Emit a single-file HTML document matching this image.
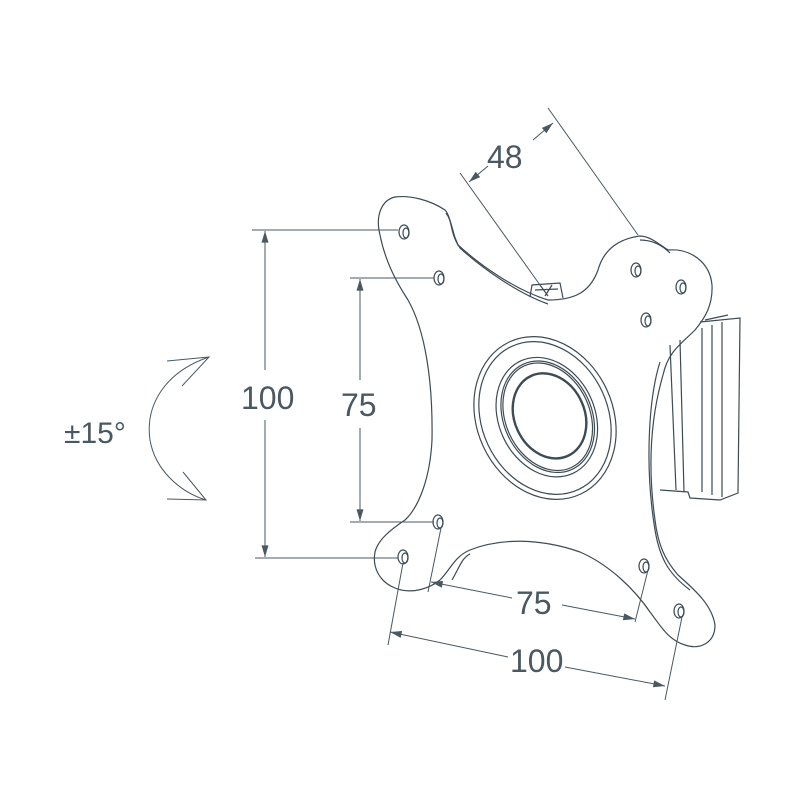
<!DOCTYPE html>
<html><head><meta charset="utf-8"><style>
html,body{margin:0;padding:0;background:#fff}
svg{display:block}
text{font-family:"Liberation Sans",sans-serif;fill:#4a5862;font-weight:normal}
</style></head><body>
<svg width="800" height="800" viewBox="0 0 800 800" xmlns="http://www.w3.org/2000/svg">
<defs>
<marker id="ar" viewBox="0 0 10 6" refX="10" refY="3" markerWidth="16" markerHeight="7" markerUnits="userSpaceOnUse" orient="auto"><path d="M0,0 L10,3 L0,6 Z" fill="#4a5862"/></marker>
</defs>
<g fill="none" stroke="#3d4b55" stroke-width="1.2">
<!-- rear bracket -->
<path d="M700,322 L740,318 L738,493 L720,500 L690,498 L688,492 L660,490"/>
<path d="M702,328 L702,492 M712,325 L712,495 M722,322 L722,497 M705,320 L728,315"/>
<path d="M670,345 L676,490 M680,340 L684,492"/>
<!-- plate outline -->
<path d="M395,197 C410,195 430,200 445,210 C452,218 450,232 458,245 C480,265 515,290 548,300 C575,300 590,292 598,270 C605,245 625,238 640,236 C650,236 660,245 668,250 C690,248 710,262 712,285 C713,305 705,318 695,330 C680,345 668,352 663,375 C650,420 648,470 655,520 C658,545 665,560 678,575 C695,590 712,605 715,625 C715,643 700,650 685,645 C668,640 660,625 650,612 C635,590 610,565 580,552 C540,538 500,538 470,550 C455,556 450,570 440,580 C430,588 412,595 395,588 C380,582 372,568 375,552 C378,540 390,530 405,520 C418,508 430,480 432,440 C433,380 425,330 408,300 C395,280 385,260 380,235 C375,215 382,200 395,197 Z"/>
<path d="M446,213 C453,222 452,236 460,248 C482,268 517,293 548,304"/>
<path d="M640,240 C655,240 665,248 670,253"/>
<path d="M452,580 C460,566 462,558 470,554"/>
<path d="M660,362 C648,400 645,470 655,530 C660,560 670,575 690,590"/>
<!-- top clip -->
<path d="M530,297 L532,285 L560,283 L563,298 M535,290 L558,289 M540,285 L548,296 M552,285 L545,296"/>
<!-- holes -->
<ellipse cx="404" cy="232" rx="5" ry="7"/><ellipse cx="406" cy="233" rx="3" ry="5"/>
<ellipse cx="439" cy="278" rx="5" ry="7"/><ellipse cx="441" cy="279" rx="3" ry="5"/>
<ellipse cx="438" cy="522" rx="5" ry="7"/><ellipse cx="440" cy="523" rx="3" ry="5"/>
<ellipse cx="403" cy="557" rx="5" ry="7"/><ellipse cx="405" cy="558" rx="3" ry="5"/>
<ellipse cx="636" cy="270" rx="5" ry="7"/><ellipse cx="638" cy="271" rx="3" ry="5"/>
<ellipse cx="681" cy="287" rx="5" ry="7"/><ellipse cx="683" cy="288" rx="3" ry="5"/>
<ellipse cx="646" cy="320" rx="5" ry="7"/><ellipse cx="648" cy="321" rx="3" ry="5"/>
<ellipse cx="644" cy="566" rx="5" ry="7"/><ellipse cx="646" cy="567" rx="3" ry="5"/>
<ellipse cx="679" cy="611" rx="5" ry="7"/><ellipse cx="681" cy="612" rx="3" ry="5"/>
<!-- central boss -->
<g transform="rotate(-25 545 418)">
<ellipse cx="545" cy="418" rx="68" ry="84"/>
<ellipse cx="545" cy="418" rx="63" ry="79"/>
<ellipse cx="547" cy="418" rx="48" ry="62"/>
<ellipse cx="548" cy="418" rx="44" ry="58"/>
<ellipse cx="548" cy="418" rx="42" ry="56"/>
<ellipse cx="550" cy="418" rx="35" ry="44" stroke-width="2.4"/>
</g>
</g>
<!-- dimension lines -->
<g fill="none" stroke="#4a5862" stroke-width="1">
<path d="M460,173 L540,285 M548,108 L638,235"/>
<path d="M488,166 L469,182" marker-end="url(#ar)"/>
<path d="M533,140 L553,123" marker-end="url(#ar)"/>
<path d="M252,230 L398,230 M255,558 L398,558"/>
<path d="M265,370 L265,231" marker-end="url(#ar)"/>
<path d="M265,420 L265,557" marker-end="url(#ar)"/>
<path d="M350,278 L434,278 M350,522 L434,522"/>
<path d="M360,380 L360,279" marker-end="url(#ar)"/>
<path d="M360,428 L360,521" marker-end="url(#ar)"/>
<path d="M441,528 L428,592 M648,570 L635,622"/>
<path d="M512,598 L431,582" marker-end="url(#ar)"/>
<path d="M562,605 L635,619" marker-end="url(#ar)"/>
<path d="M403,563 L388,645 M682,617 L665,700"/>
<path d="M508,657 L390,632" marker-end="url(#ar)"/>
<path d="M565,667 L665,686" marker-end="url(#ar)"/>
<!-- rotation arrow -->
<path d="M209,357 C165,372 145,405 150,440 C155,470 180,492 206,500"/>
<path d="M167,361 L209,357 L182,386 M167,499 L206,500 L183,472"/>
</g>
<text x="487" y="168" font-size="32">48</text>
<text x="241" y="409" font-size="32">100</text>
<text x="341" y="416" font-size="32">75</text>
<text x="516" y="614" font-size="32">75</text>
<text x="510" y="672" font-size="32">100</text>
<text x="64" y="443" font-size="30">±15°</text>
</svg>
</body></html>
